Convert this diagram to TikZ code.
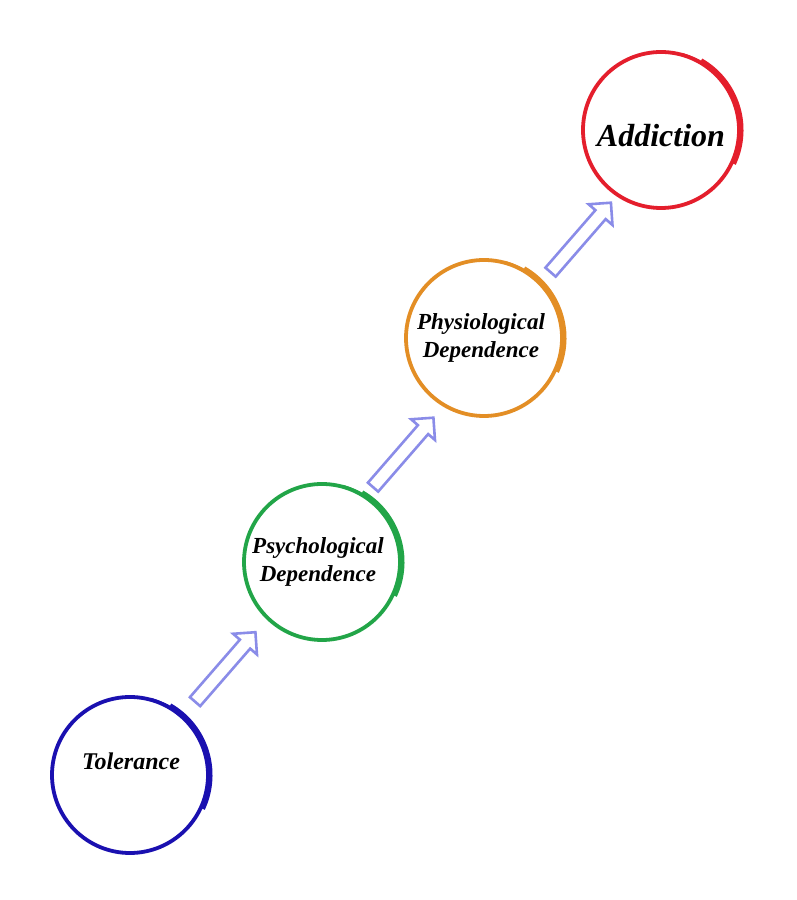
\documentclass[tikz,border=0pt]{standalone}
\usepackage{fontspec}
\setmainfont{Liberation Serif}
\usetikzlibrary{shapes.arrows,calc}
\definecolor{cblue}{HTML}{1A10B0}
\definecolor{cgreen}{HTML}{22A548}
\definecolor{corange}{HTML}{E38E25}
\definecolor{cred}{HTML}{E41E2C}
\definecolor{carrow}{HTML}{8A8CE8}
\tikzset{
  ring/.style={circle, minimum size=160pt, inner sep=0pt},
  uparrow/.style={single arrow, draw=carrow, line width=2.6pt, fill=white, minimum height=92pt, inner sep=5.5pt, single arrow head extend=9pt, rotate=49},
  lbl/.style={font=\bfseries\itshape\fontsize{23}{28}\selectfont, align=center}
}
\newcommand{\ringdraw}[2]{%
  \draw[#2, line width=3.8pt] (#1) circle (78pt);
  \draw[#2, line width=5pt] ($(#1)+(60:80pt)$) arc (60:-25:80pt);
  \draw[#2, line width=1.8pt] ($(#1)+(75:79pt)$) arc (75:40:83pt);
}
\begin{document}
\begin{tikzpicture}[x=1pt,y=1pt]
\useasboundingbox (0,0) rectangle (796,900);
\fill[white] (0,0) rectangle (796,900);
\node[ring] (tol) at (130,125) {};
\node[ring] (psy) at (322,338) {};
\node[ring] (phy) at (484,562) {};
\node[ring] (add) at (661,770) {};
\ringdraw{tol}{cblue}
\ringdraw{psy}{cgreen}
\ringdraw{phy}{corange}
\ringdraw{add}{cred}
\node[lbl, font=\bfseries\itshape\fontsize{24}{28}\selectfont] at ($(tol)+(1,14)$) {Tolerance};
\node[lbl] at ($(psy)+(-4,0)$) {Psychological\\Dependence};
\node[lbl] at ($(phy)+(-3,0)$) {Physiological\\Dependence};
\node[lbl, font=\bfseries\itshape\fontsize{32}{36}\selectfont] at ($(add)+(0,-6)$) {Addiction};
\node[uparrow] (a1) at ($(tol)!0.5!(psy)+(-3,-1)$) {};
\node[uparrow] (a2) at ($(psy)!0.5!(phy)+(-2,-5)$) {};
\node[uparrow] (a3) at ($(phy)!0.5!(add)+(6,-6)$) {};
\end{tikzpicture}
\end{document}
